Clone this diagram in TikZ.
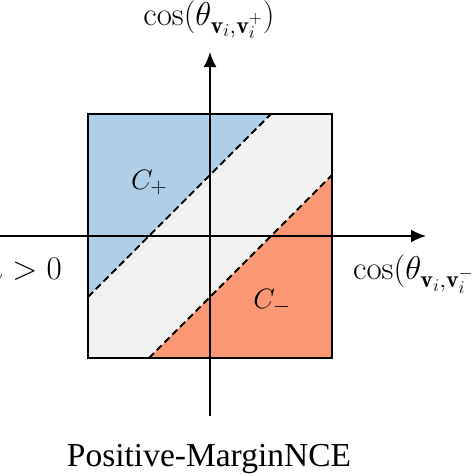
\RequirePackage{fix-cm}
\documentclass[tikz,border=0pt]{standalone}
\usepackage{fontspec}
\newfontfamily\timesf{Liberation Serif}
\usetikzlibrary{arrows.meta}
\DeclareMathSizes{33}{33}{24}{18}
\DeclareMathSizes{28}{28}{22}{16}
\definecolor{posblue}{RGB}{174,207,231}
\definecolor{negorange}{RGB}{250,152,118}
\definecolor{midgray}{RGB}{242,242,242}
\tikzset{
  axisline/.style={line width=2pt,-{Latex[length=15pt,width=13pt]}},
  frameline/.style={line width=2pt},
  boundary/.style={line width=2pt,dash pattern=on 7pt off 4pt},
  biglabel/.style={inner sep=0pt,font=\fontsize{33}{38}\selectfont},
  clabel/.style={inner sep=0pt,font=\fontsize{28}{32}\selectfont},
}
\begin{document}
\begin{tikzpicture}[x=1pt,y=1pt]
\useasboundingbox (0,-474) rectangle (474,0);
% square corners
\coordinate (sw) at (88,-358);
\coordinate (ne) at (332,-114);
\coordinate (nw) at (88,-114);
\coordinate (se) at (332,-358);
% boundary endpoints
\coordinate (pa) at (88,-297);
\coordinate (pb) at (271,-114);
\coordinate (na) at (149,-358);
\coordinate (nb) at (332,-175);
\fill[midgray] (sw) rectangle (ne);
\fill[posblue] (pa) -- (nw) -- (pb) -- cycle;
\fill[negorange] (na) -- (se) -- (nb) -- cycle;
\draw[boundary] (pa) -- (pb);
\draw[boundary] (na) -- (nb);
% axes
\coordinate (xs) at (0,-236);
\coordinate (xe) at (426,-236);
\coordinate (ys) at (210,-416);
\coordinate (ye) at (210,-52);
\draw[axisline] (xs) -- (xe);
\draw[axisline] (ys) -- (ye);
\draw[frameline] (sw) rectangle (ne);
% labels
\node[biglabel,anchor=base] (ylab) at (209,-25) {$\cos(\theta_{\mathbf{v}_i,\mathbf{v}_i^+})$};
\node[biglabel,anchor=base west] (xlab) at (353,-279) {$\cos(\theta_{\mathbf{v}_i,\mathbf{v}_i^-})$};
\node[biglabel,anchor=base east] (mlab) at (62,-279) {$m>0$};
\node[clabel] (cp) at (149,-183) {$C_+$};
\node[clabel] (cm) at (272,-302) {$C_-$};
\node[inner sep=0pt,anchor=base,font=\timesf\fontsize{33.5}{38}\selectfont] (title) at (209,-466) {Positive-MarginNCE};
\end{tikzpicture}
\end{document}
